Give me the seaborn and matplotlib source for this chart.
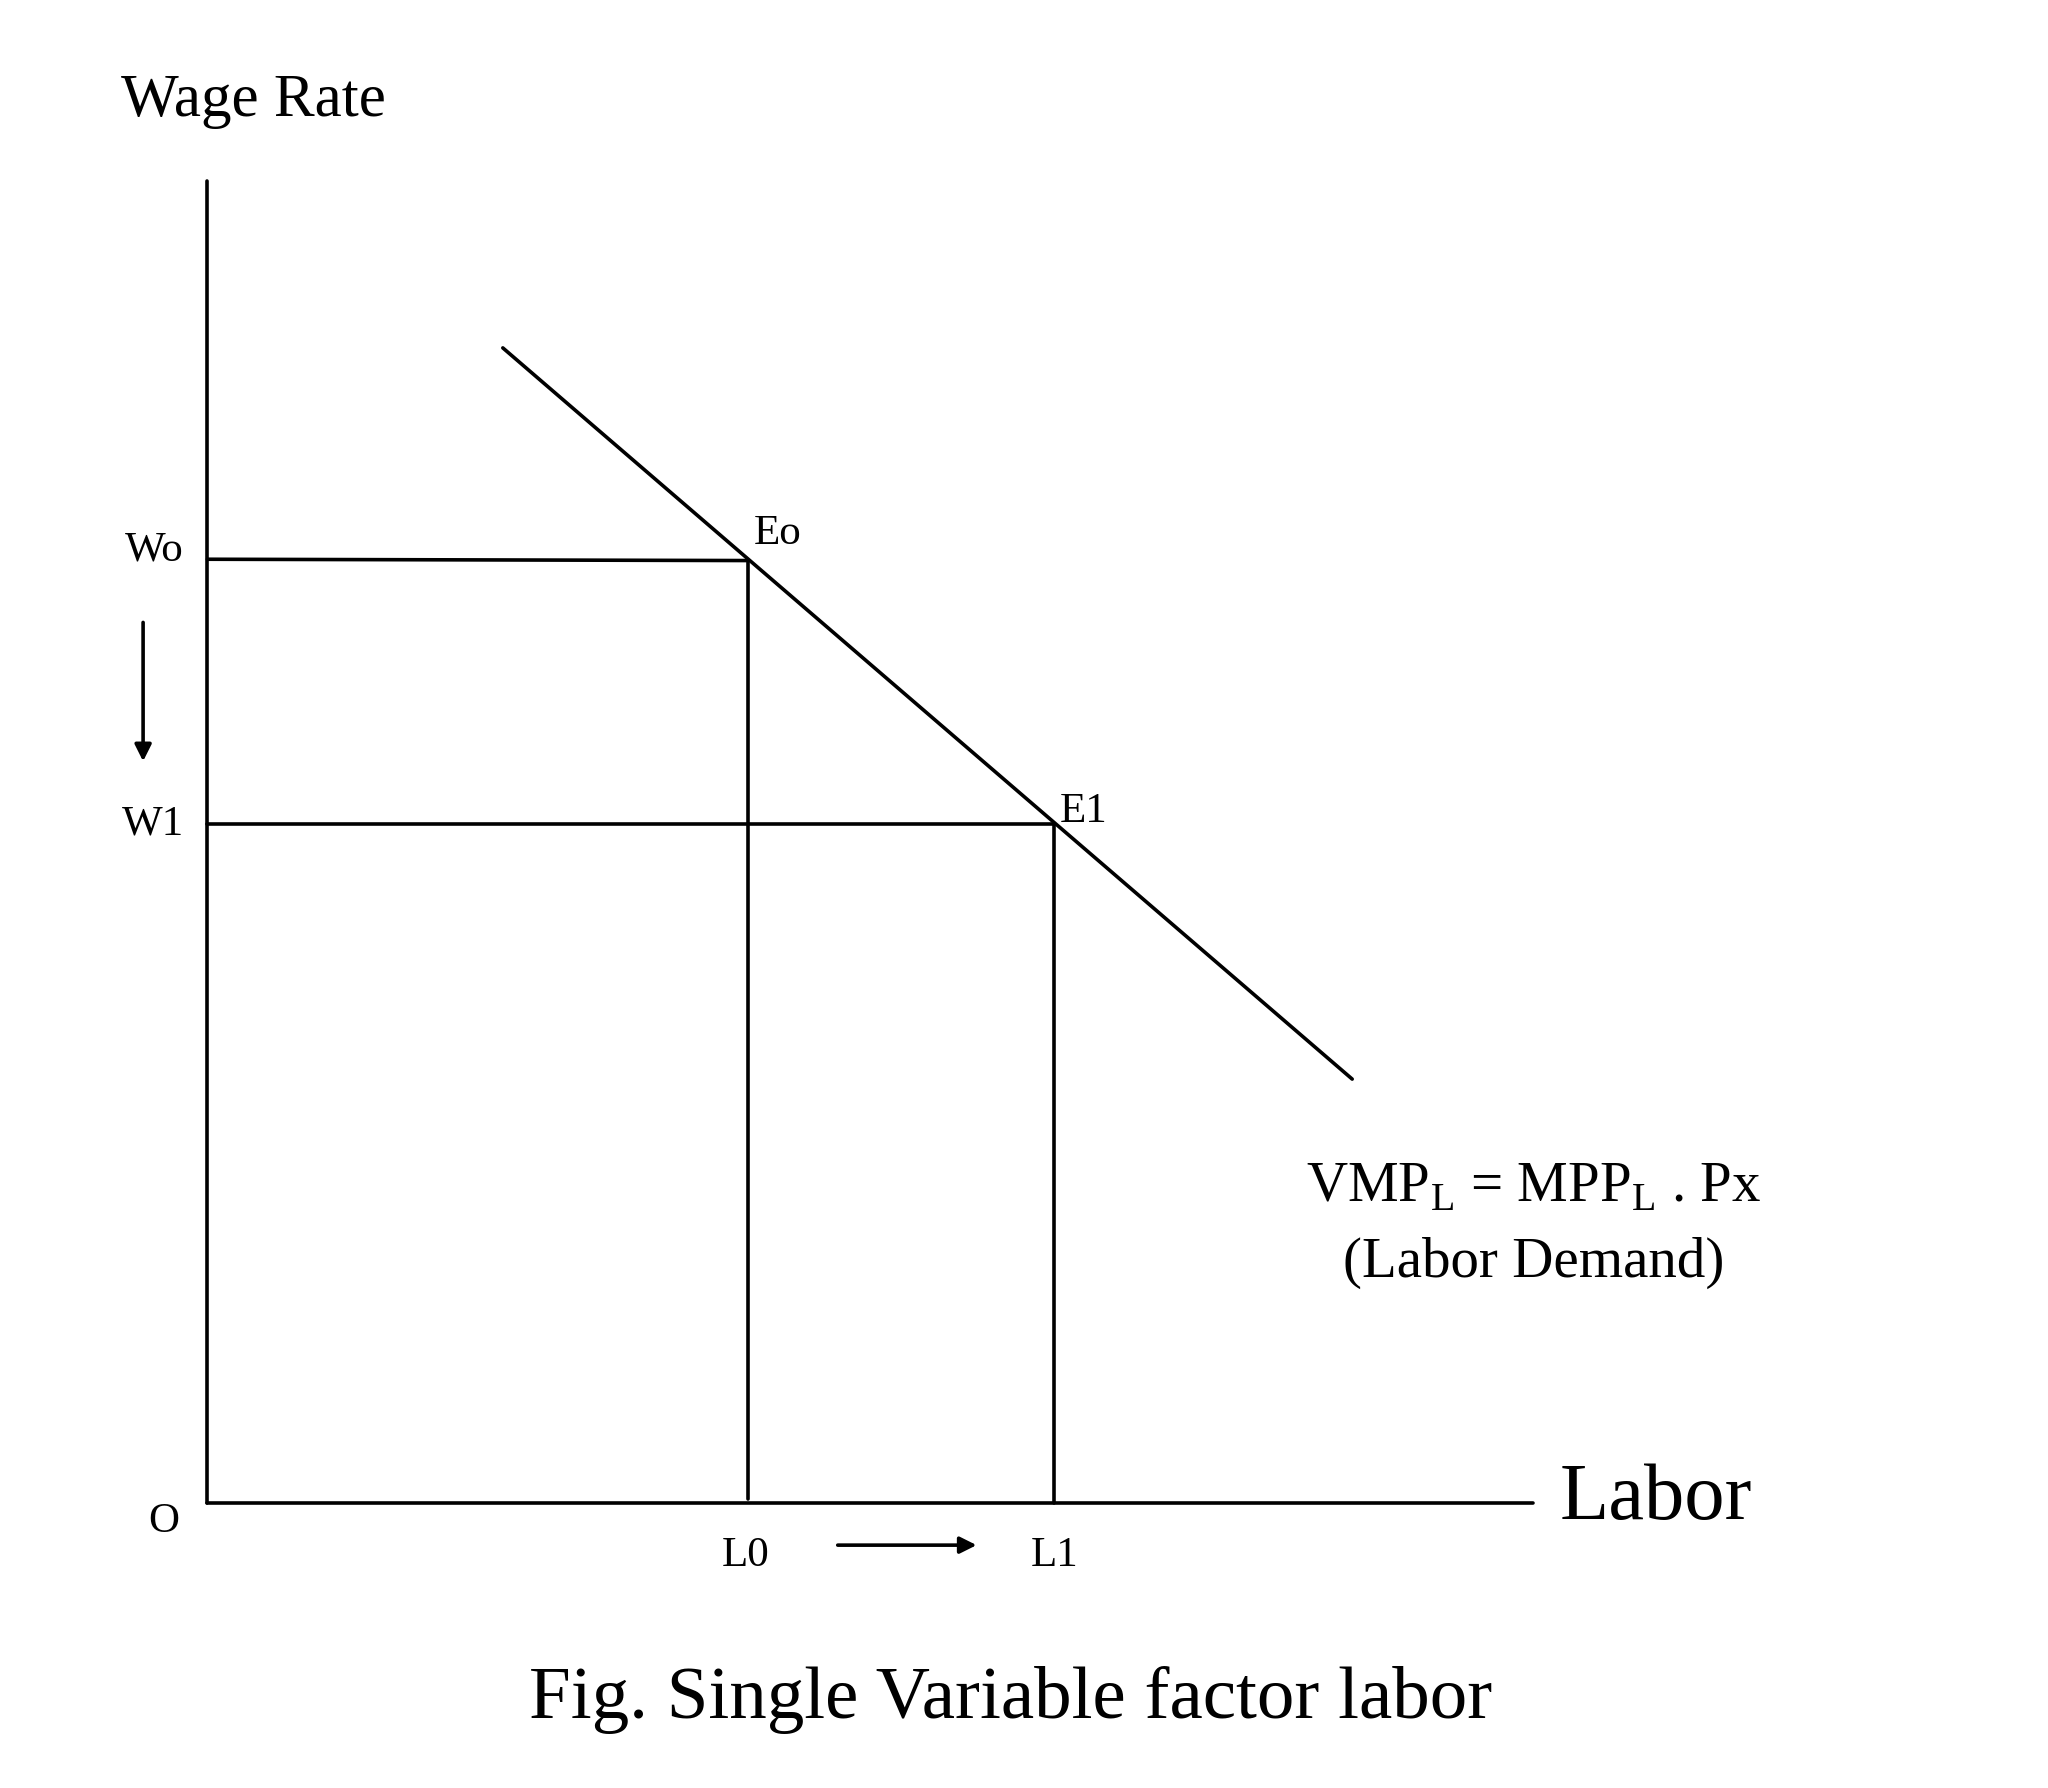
import matplotlib
matplotlib.use("Agg")
import matplotlib.pyplot as plt
import seaborn as sns
import pandas as pd

# Data (units relative to origin O)
demand_x = [225, 872]
demand_y = [880, 323]
eq_labels = ["Eo", "E1"]
eq_x = [412, 645]
eq_y = [718, 517]
wage_labels = ["Wo", "W1"]
labor_labels = ["L0", "L1"]

sns.set_theme(style="white")
plt.rcParams['font.family'] = ['Liberation Serif', 'DejaVu Serif']
plt.rcParams['text.color'] = 'black'

fig = plt.figure(figsize=(20.48, 17.88), dpi=100)
ax = fig.add_axes([0, 0, 1, 1])
ax.set_xlim(-158, 1560 - 158)
ax.set_ylim(1145 - 1362, 1145)
ax.axis("off")

k = dict(color="black", lw=2.6)
ax.plot([0, 0], [0, 1007], **k)
ax.plot([0, 1010], [0, 0], **k)

df = pd.DataFrame({"x": demand_x, "y": demand_y})
sns.lineplot(data=df, x="x", y="y", ax=ax, color="black", lw=2.6)

ax.plot([0, eq_x[0]], [719, eq_y[0]], **k)
ax.plot([eq_x[0], eq_x[0]], [eq_y[0], 3], **k)
ax.plot([0, eq_x[1]], [eq_y[1], eq_y[1]], **k)
ax.plot([eq_x[1], eq_x[1]], [eq_y[1], 0], **k)

fs = 31
c = "black"
ax.text(eq_x[0] + 4, eq_y[0] + 6, eq_labels[0], fontsize=fs, va="bottom", color=c)
ax.text(eq_x[1] + 4, eq_y[1] - 5, eq_labels[1], fontsize=fs, va="bottom", color=c)
ax.text(-18, eq_y[0] + 8, wage_labels[0], fontsize=fs, ha="right", va="center", color=c)
ax.text(-18, eq_y[1], wage_labels[1], fontsize=fs, ha="right", va="center", color=c)
ax.text(-33, -14, "O", fontsize=fs, ha="center", va="center", color=c)
ax.text(eq_x[0] - 2, -40, labor_labels[0], fontsize=fs, ha="center", va="center", color=c)
ax.text(eq_x[1], -40, labor_labels[1], fontsize=fs, ha="center", va="center", color=c)

ax.text(-66, 1068, "Wage Rate", fontsize=44, va="center", color=c)
ax.text(1030, 3, "Labor", fontsize=58, va="center", color=c)
ax.text(1010, 240, r"VMP$_\mathregular{L}$ = MPP$_\mathregular{L}$ . Px", fontsize=41, ha="center", va="center", color=c)
ax.text(1010, 183, "(Labor Demand)", fontsize=41, ha="center", va="center", color=c)
ax.text(612, -150, "Fig. Single Variable factor labor", fontsize=54, ha="center", va="center", color=c)

ax.annotate("", xy=(-49, 563), xytext=(-49, 673),
            arrowprops=dict(arrowstyle="-|>", color="black", lw=2.6, mutation_scale=25))
ax.annotate("", xy=(588, -32), xytext=(478, -32),
            arrowprops=dict(arrowstyle="-|>", color="black", lw=2.6, mutation_scale=25))

fig.savefig("out.png", dpi=100, facecolor="white")
